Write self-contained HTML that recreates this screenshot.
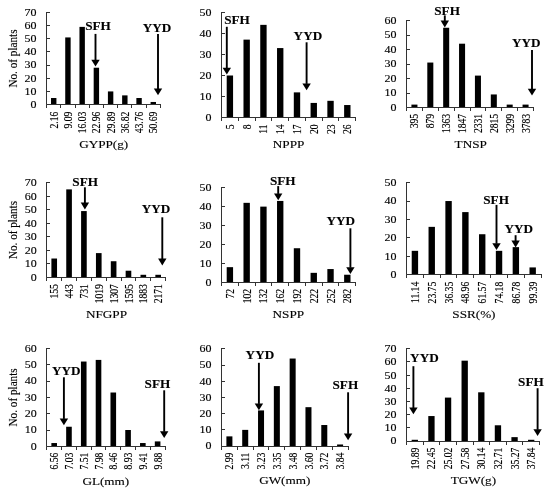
<!DOCTYPE html>
<html><head><meta charset="utf-8"><title>Histograms</title>
<style>
html,body{margin:0;padding:0;background:#fff;}
body{width:550px;height:493px;overflow:hidden;}
svg{display:block;}
#w{width:550px;height:493px;}
text{font-family:"Liberation Serif", "Times New Roman", serif;fill:#000;stroke:#000;stroke-width:0.12px;}
.lb{stroke-width:0.1px;}
.tk{font-size:10.0px;text-anchor:end;}
.ct{font-size:9.6px;text-anchor:end;}
.ti{font-size:11.0px;text-anchor:middle;}
.lb{font-size:11.6px;font-weight:bold;text-anchor:middle;}
.yt{font-size:11.2px;text-anchor:middle;}
.ax{fill:none;stroke:#333;stroke-width:1;}
.ar{fill:none;stroke:#000;stroke-width:1.9;}
</style></head>
<body><div id="w"><svg width="550" height="493" viewBox="0 0 550 493">
<rect width="550" height="493" fill="#fff"/>
<g><rect x="51.01" y="98.01" width="5.41" height="6.59"/><rect x="65.23" y="37.43" width="5.41" height="67.17"/><rect x="79.46" y="26.89" width="5.41" height="77.71"/><rect x="93.68" y="67.72" width="5.41" height="36.88"/><rect x="107.91" y="91.43" width="5.41" height="13.17"/><rect x="122.13" y="95.38" width="5.41" height="9.22"/><rect x="136.36" y="98.01" width="5.41" height="6.59"/><rect x="150.58" y="101.97" width="5.41" height="2.63"/><path class="ax" d="M46.5 12V104.5H161"/><path class="ax" d="M46.5 104.5h3.5M46.5 91.5h3.5M46.5 78.5h3.5M46.5 65.5h3.5M46.5 51.5h3.5M46.5 38.5h3.5M46.5 25.5h3.5M46.5 12.5h3.5M46.5 104.5v3.5M60.5 104.5v3.5M75.5 104.5v3.5M89.5 104.5v3.5M103.5 104.5v3.5M117.5 104.5v3.5M131.5 104.5v3.5M146.5 104.5v3.5M160.5 104.5v3.5"/><text class="tk" transform="translate(36.6 107.98) scale(1.2 1)">0</text><text class="tk" transform="translate(36.6 94.81) scale(1.2 1)">10</text><text class="tk" transform="translate(36.6 81.64) scale(1.2 1)">20</text><text class="tk" transform="translate(36.6 68.47) scale(1.2 1)">30</text><text class="tk" transform="translate(36.6 55.29) scale(1.2 1)">40</text><text class="tk" transform="translate(36.6 42.12) scale(1.2 1)">50</text><text class="tk" transform="translate(36.6 28.95) scale(1.2 1)">60</text><text class="tk" transform="translate(36.6 15.78) scale(1.2 1)">70</text><text class="ct" transform="translate(57.77 111.7) scale(1.25 1) rotate(-90)">2.16</text><text class="ct" transform="translate(71.99 111.7) scale(1.25 1) rotate(-90)">9.09</text><text class="ct" transform="translate(86.22 111.7) scale(1.25 1) rotate(-90)">16.03</text><text class="ct" transform="translate(100.44 111.7) scale(1.25 1) rotate(-90)">22.96</text><text class="ct" transform="translate(114.67 111.7) scale(1.25 1) rotate(-90)">29.89</text><text class="ct" transform="translate(128.89 111.7) scale(1.25 1) rotate(-90)">36.82</text><text class="ct" transform="translate(143.12 111.7) scale(1.25 1) rotate(-90)">43.76</text><text class="ct" transform="translate(157.34 111.7) scale(1.25 1) rotate(-90)">50.69</text><text class="ti" transform="translate(103.65 148) scale(1.2 1)">GYPP(g)</text><text class="lb" transform="translate(98 30.2) scale(1.14 1)">SFH</text><path class="ar" d="M95.5 33.9V60.2"/><path d="M91.3 59.7H99.7L95.5 66.5Z"/><text class="lb" transform="translate(157.05 31.9) scale(1.14 1)">YYD</text><path class="ar" d="M158 34.1V88.9"/><path d="M153.8 88.4H162.2L158 95.2Z"/><text class="yt" transform="translate(17.3 58.5) scale(1.03 1) rotate(-90)">No. of plants</text></g>
<g><rect x="226.7" y="75.5" width="6.37" height="42.2"/><rect x="243.48" y="39.63" width="6.37" height="78.07"/><rect x="260.25" y="24.86" width="6.37" height="92.84"/><rect x="277.03" y="48.07" width="6.37" height="69.63"/><rect x="293.8" y="92.38" width="6.37" height="25.32"/><rect x="310.58" y="102.93" width="6.37" height="14.77"/><rect x="327.35" y="100.82" width="6.37" height="16.88"/><rect x="344.13" y="105.04" width="6.37" height="12.66"/><path class="ax" d="M221.5 12V117.5H356"/><path class="ax" d="M221.5 117.5h3.5M221.5 96.5h3.5M221.5 75.5h3.5M221.5 54.5h3.5M221.5 33.5h3.5M221.5 12.5h3.5M221.5 117.5v3.5M238.5 117.5v3.5M255.5 117.5v3.5M271.5 117.5v3.5M288.5 117.5v3.5M305.5 117.5v3.5M322.5 117.5v3.5M338.5 117.5v3.5M355.5 117.5v3.5"/><text class="tk" transform="translate(211.5 121.08) scale(1.2 1)">0</text><text class="tk" transform="translate(211.5 99.98) scale(1.2 1)">10</text><text class="tk" transform="translate(211.5 78.88) scale(1.2 1)">20</text><text class="tk" transform="translate(211.5 57.78) scale(1.2 1)">30</text><text class="tk" transform="translate(211.5 36.68) scale(1.2 1)">40</text><text class="tk" transform="translate(211.5 15.58) scale(1.2 1)">50</text><text class="ct" transform="translate(233.94 124.5) scale(1.25 1) rotate(-90)">5</text><text class="ct" transform="translate(250.72 124.5) scale(1.25 1) rotate(-90)">8</text><text class="ct" transform="translate(267.49 124.5) scale(1.25 1) rotate(-90)">11</text><text class="ct" transform="translate(284.27 124.5) scale(1.25 1) rotate(-90)">14</text><text class="ct" transform="translate(301.04 124.5) scale(1.25 1) rotate(-90)">17</text><text class="ct" transform="translate(317.82 124.5) scale(1.25 1) rotate(-90)">20</text><text class="ct" transform="translate(334.59 124.5) scale(1.25 1) rotate(-90)">23</text><text class="ct" transform="translate(351.37 124.5) scale(1.25 1) rotate(-90)">26</text><text class="ti" transform="translate(288.55 148) scale(1.2 1)">NPPP</text><text class="lb" transform="translate(237.05 24) scale(1.14 1)">SFH</text><path class="ar" d="M226.8 26.8V68.2"/><path d="M222.6 67.7H231L226.8 74.5Z"/><text class="lb" transform="translate(307.9 39.9) scale(1.14 1)">YYD</text><path class="ar" d="M306.6 42.3V83.9"/><path d="M302.4 83.4H310.8L306.6 90.2Z"/></g>
<g><rect x="411.42" y="104.6" width="6.03" height="2.9"/><rect x="427.3" y="62.55" width="6.03" height="44.95"/><rect x="443.17" y="27.75" width="6.03" height="79.75"/><rect x="459.05" y="43.7" width="6.03" height="63.8"/><rect x="474.92" y="75.6" width="6.03" height="31.9"/><rect x="490.8" y="94.45" width="6.03" height="13.05"/><rect x="506.67" y="104.6" width="6.03" height="2.9"/><rect x="522.55" y="104.6" width="6.03" height="2.9"/><path class="ax" d="M406.5 20V107.5H534"/><path class="ax" d="M406.5 107.5h3.5M406.5 93.5h3.5M406.5 78.5h3.5M406.5 64.5h3.5M406.5 49.5h3.5M406.5 35.5h3.5M406.5 20.5h3.5M406.5 107.5v3.5M422.5 107.5v3.5M438.5 107.5v3.5M454.5 107.5v3.5M470.5 107.5v3.5M485.5 107.5v3.5M501.5 107.5v3.5M517.5 107.5v3.5M533.5 107.5v3.5"/><text class="tk" transform="translate(396.5 110.88) scale(1.2 1)">0</text><text class="tk" transform="translate(396.5 96.38) scale(1.2 1)">10</text><text class="tk" transform="translate(396.5 81.88) scale(1.2 1)">20</text><text class="tk" transform="translate(396.5 67.38) scale(1.2 1)">30</text><text class="tk" transform="translate(396.5 52.88) scale(1.2 1)">40</text><text class="tk" transform="translate(396.5 38.38) scale(1.2 1)">50</text><text class="tk" transform="translate(396.5 23.88) scale(1.2 1)">60</text><text class="ct" transform="translate(418.49 113.9) scale(1.25 1) rotate(-90)">395</text><text class="ct" transform="translate(434.37 113.9) scale(1.25 1) rotate(-90)">879</text><text class="ct" transform="translate(450.24 113.9) scale(1.25 1) rotate(-90)">1363</text><text class="ct" transform="translate(466.12 113.9) scale(1.25 1) rotate(-90)">1847</text><text class="ct" transform="translate(481.99 113.9) scale(1.25 1) rotate(-90)">2331</text><text class="ct" transform="translate(497.87 113.9) scale(1.25 1) rotate(-90)">2815</text><text class="ct" transform="translate(513.74 113.9) scale(1.25 1) rotate(-90)">3299</text><text class="ct" transform="translate(529.62 113.9) scale(1.25 1) rotate(-90)">3783</text><text class="ti" transform="translate(470.7 148.1) scale(1.2 1)">TNSP</text><text class="lb" transform="translate(447.1 15.2) scale(1.14 1)">SFH</text><path class="ar" d="M444.8 15.4V21.1"/><path d="M440.6 20.6H449L444.8 27.4Z"/><text class="lb" transform="translate(526.25 47.1) scale(1.14 1)">YYD</text><path class="ar" d="M532 50.1V89.3"/><path d="M527.8 88.8H536.2L532 95.6Z"/></g>
<g><rect x="51.4" y="258.52" width="5.64" height="18.98"/><rect x="66.25" y="189.38" width="5.64" height="88.12"/><rect x="81.1" y="211.07" width="5.64" height="66.43"/><rect x="95.95" y="253.1" width="5.64" height="24.4"/><rect x="110.8" y="261.23" width="5.64" height="16.27"/><rect x="125.65" y="270.72" width="5.64" height="6.78"/><rect x="140.5" y="274.79" width="5.64" height="2.71"/><rect x="155.35" y="274.79" width="5.64" height="2.71"/><path class="ax" d="M46.5 182V277.5H166"/><path class="ax" d="M46.5 277.5h3.5M46.5 263.5h3.5M46.5 250.5h3.5M46.5 236.5h3.5M46.5 223.5h3.5M46.5 209.5h3.5M46.5 196.5h3.5M46.5 182.5h3.5M46.5 277.5v3.5M61.5 277.5v3.5M76.5 277.5v3.5M91.5 277.5v3.5M106.5 277.5v3.5M121.5 277.5v3.5M135.5 277.5v3.5M150.5 277.5v3.5M165.5 277.5v3.5"/><text class="tk" transform="translate(36.8 280.88) scale(1.2 1)">0</text><text class="tk" transform="translate(36.8 267.32) scale(1.2 1)">10</text><text class="tk" transform="translate(36.8 253.77) scale(1.2 1)">20</text><text class="tk" transform="translate(36.8 240.21) scale(1.2 1)">30</text><text class="tk" transform="translate(36.8 226.65) scale(1.2 1)">40</text><text class="tk" transform="translate(36.8 213.09) scale(1.2 1)">50</text><text class="tk" transform="translate(36.8 199.54) scale(1.2 1)">60</text><text class="tk" transform="translate(36.8 185.98) scale(1.2 1)">70</text><text class="ct" transform="translate(58.28 284.1) scale(1.25 1) rotate(-90)">155</text><text class="ct" transform="translate(73.13 284.1) scale(1.25 1) rotate(-90)">443</text><text class="ct" transform="translate(87.98 284.1) scale(1.25 1) rotate(-90)">731</text><text class="ct" transform="translate(102.83 284.1) scale(1.25 1) rotate(-90)">1019</text><text class="ct" transform="translate(117.68 284.1) scale(1.25 1) rotate(-90)">1307</text><text class="ct" transform="translate(132.53 284.1) scale(1.25 1) rotate(-90)">1595</text><text class="ct" transform="translate(147.38 284.1) scale(1.25 1) rotate(-90)">1883</text><text class="ct" transform="translate(162.23 284.1) scale(1.25 1) rotate(-90)">2171</text><text class="ti" transform="translate(106.5 318) scale(1.2 1)">NFGPP</text><text class="lb" transform="translate(85.2 186.4) scale(1.14 1)">SFH</text><path class="ar" d="M84.9 187.3V203.1"/><path d="M80.7 202.6H89.1L84.9 209.4Z"/><text class="lb" transform="translate(155.95 212.8) scale(1.14 1)">YYD</text><path class="ar" d="M162.3 217.3V259.1"/><path d="M158.1 258.6H166.5L162.3 265.4Z"/><text class="yt" transform="translate(17.3 230.05) scale(1.03 1) rotate(-90)">No. of plants</text></g>
<g><rect x="226.7" y="267.16" width="6.37" height="15.14"/><rect x="243.48" y="202.84" width="6.37" height="79.46"/><rect x="260.25" y="206.62" width="6.37" height="75.68"/><rect x="277.03" y="200.94" width="6.37" height="81.36"/><rect x="293.8" y="248.24" width="6.37" height="34.06"/><rect x="310.58" y="272.84" width="6.37" height="9.46"/><rect x="327.35" y="269.06" width="6.37" height="13.24"/><rect x="344.13" y="274.73" width="6.37" height="7.57"/><path class="ax" d="M221.5 187V282.5H356"/><path class="ax" d="M221.5 282.5h3.5M221.5 263.5h3.5M221.5 244.5h3.5M221.5 225.5h3.5M221.5 206.5h3.5M221.5 187.5h3.5M221.5 282.5v3.5M238.5 282.5v3.5M255.5 282.5v3.5M271.5 282.5v3.5M288.5 282.5v3.5M305.5 282.5v3.5M322.5 282.5v3.5M338.5 282.5v3.5M355.5 282.5v3.5"/><text class="tk" transform="translate(211.5 285.68) scale(1.2 1)">0</text><text class="tk" transform="translate(211.5 266.76) scale(1.2 1)">10</text><text class="tk" transform="translate(211.5 247.84) scale(1.2 1)">20</text><text class="tk" transform="translate(211.5 228.92) scale(1.2 1)">30</text><text class="tk" transform="translate(211.5 210) scale(1.2 1)">40</text><text class="tk" transform="translate(211.5 191.08) scale(1.2 1)">50</text><text class="ct" transform="translate(233.94 288.9) scale(1.25 1) rotate(-90)">72</text><text class="ct" transform="translate(250.72 288.9) scale(1.25 1) rotate(-90)">102</text><text class="ct" transform="translate(267.49 288.9) scale(1.25 1) rotate(-90)">132</text><text class="ct" transform="translate(284.27 288.9) scale(1.25 1) rotate(-90)">162</text><text class="ct" transform="translate(301.04 288.9) scale(1.25 1) rotate(-90)">192</text><text class="ct" transform="translate(317.82 288.9) scale(1.25 1) rotate(-90)">222</text><text class="ct" transform="translate(334.59 288.9) scale(1.25 1) rotate(-90)">252</text><text class="ct" transform="translate(351.37 288.9) scale(1.25 1) rotate(-90)">282</text><text class="ti" transform="translate(288.35 318.2) scale(1.2 1)">NSPP</text><text class="lb" transform="translate(282.8 185.2) scale(1.14 1)">SFH</text><path class="ar" d="M278.2 186.1V193.9"/><path d="M274 193.4H282.4L278.2 200.2Z"/><text class="lb" transform="translate(340.85 225) scale(1.14 1)">YYD</text><path class="ar" d="M350.4 228.3V267.7"/><path d="M346.2 267.2H354.6L350.4 274Z"/></g>
<g><rect x="411.72" y="250.83" width="6.39" height="23.97"/><rect x="428.54" y="226.86" width="6.39" height="47.94"/><rect x="445.37" y="201.04" width="6.39" height="73.76"/><rect x="462.19" y="212.1" width="6.39" height="62.7"/><rect x="479.02" y="234.23" width="6.39" height="40.57"/><rect x="495.84" y="250.83" width="6.39" height="23.97"/><rect x="512.67" y="247.14" width="6.39" height="27.66"/><rect x="529.49" y="267.42" width="6.39" height="7.38"/><path class="ax" d="M406.5 182V274.5H542"/><path class="ax" d="M406.5 274.5h3.5M406.5 256.5h3.5M406.5 237.5h3.5M406.5 219.5h3.5M406.5 201.5h3.5M406.5 182.5h3.5M406.5 274.5v3.5M423.5 274.5v3.5M440.5 274.5v3.5M456.5 274.5v3.5M473.5 274.5v3.5M490.5 274.5v3.5M507.5 274.5v3.5M524.5 274.5v3.5M541.5 274.5v3.5"/><text class="tk" transform="translate(396.5 278.18) scale(1.2 1)">0</text><text class="tk" transform="translate(396.5 259.74) scale(1.2 1)">10</text><text class="tk" transform="translate(396.5 241.3) scale(1.2 1)">20</text><text class="tk" transform="translate(396.5 222.86) scale(1.2 1)">30</text><text class="tk" transform="translate(396.5 204.42) scale(1.2 1)">40</text><text class="tk" transform="translate(396.5 185.98) scale(1.2 1)">50</text><text class="ct" transform="translate(418.97 281.8) scale(1.25 1) rotate(-90)">11.14</text><text class="ct" transform="translate(435.79 281.8) scale(1.25 1) rotate(-90)">23.75</text><text class="ct" transform="translate(452.62 281.8) scale(1.25 1) rotate(-90)">36.35</text><text class="ct" transform="translate(469.44 281.8) scale(1.25 1) rotate(-90)">48.96</text><text class="ct" transform="translate(486.27 281.8) scale(1.25 1) rotate(-90)">61.57</text><text class="ct" transform="translate(503.09 281.8) scale(1.25 1) rotate(-90)">74.18</text><text class="ct" transform="translate(519.92 281.8) scale(1.25 1) rotate(-90)">86.78</text><text class="ct" transform="translate(536.74 281.8) scale(1.25 1) rotate(-90)">99.39</text><text class="ti" transform="translate(473.9 318.2) scale(1.2 1)">SSR(%)</text><text class="lb" transform="translate(496.1 203.5) scale(1.14 1)">SFH</text><path class="ar" d="M496.5 204.9V243.7"/><path d="M492.3 243.2H500.7L496.5 250Z"/><text class="lb" transform="translate(518.8 232.9) scale(1.14 1)">YYD</text><path class="ar" d="M515.6 235.2V241.1"/><path d="M511.4 240.6H519.8L515.6 247.4Z"/></g>
<g><rect x="51.38" y="443.04" width="5.61" height="3.26"/><rect x="66.16" y="426.74" width="5.61" height="19.56"/><rect x="80.93" y="361.54" width="5.61" height="84.76"/><rect x="95.71" y="359.91" width="5.61" height="86.39"/><rect x="110.48" y="392.51" width="5.61" height="53.79"/><rect x="125.26" y="430" width="5.61" height="16.3"/><rect x="140.03" y="443.04" width="5.61" height="3.26"/><rect x="154.81" y="441.41" width="5.61" height="4.89"/><path class="ax" d="M46.5 348V446.5H166"/><path class="ax" d="M46.5 446.5h3.5M46.5 430.5h3.5M46.5 413.5h3.5M46.5 397.5h3.5M46.5 381.5h3.5M46.5 364.5h3.5M46.5 348.5h3.5M46.5 446.5v3.5M61.5 446.5v3.5M76.5 446.5v3.5M91.5 446.5v3.5M105.5 446.5v3.5M120.5 446.5v3.5M135.5 446.5v3.5M150.5 446.5v3.5M165.5 446.5v3.5"/><text class="tk" transform="translate(36.8 449.68) scale(1.2 1)">0</text><text class="tk" transform="translate(36.8 433.38) scale(1.2 1)">10</text><text class="tk" transform="translate(36.8 417.08) scale(1.2 1)">20</text><text class="tk" transform="translate(36.8 400.78) scale(1.2 1)">30</text><text class="tk" transform="translate(36.8 384.48) scale(1.2 1)">40</text><text class="tk" transform="translate(36.8 368.18) scale(1.2 1)">50</text><text class="tk" transform="translate(36.8 351.88) scale(1.2 1)">60</text><text class="ct" transform="translate(58.24 452.7) scale(1.25 1) rotate(-90)">6.56</text><text class="ct" transform="translate(73.02 452.7) scale(1.25 1) rotate(-90)">7.03</text><text class="ct" transform="translate(87.79 452.7) scale(1.25 1) rotate(-90)">7.51</text><text class="ct" transform="translate(102.57 452.7) scale(1.25 1) rotate(-90)">7.98</text><text class="ct" transform="translate(117.34 452.7) scale(1.25 1) rotate(-90)">8.46</text><text class="ct" transform="translate(132.12 452.7) scale(1.25 1) rotate(-90)">8.93</text><text class="ct" transform="translate(146.89 452.7) scale(1.25 1) rotate(-90)">9.41</text><text class="ct" transform="translate(161.67 452.7) scale(1.25 1) rotate(-90)">9.88</text><text class="ti" transform="translate(105.8 484.5) scale(1.2 1)">GL(mm)</text><text class="lb" transform="translate(66.3 374.5) scale(1.14 1)">YYD</text><path class="ar" d="M63.9 377.3V418.9"/><path d="M59.7 418.4H68.1L63.9 425.2Z"/><text class="lb" transform="translate(157.4 388.2) scale(1.14 1)">SFH</text><path class="ar" d="M164.2 390.3V431.8"/><path d="M160 431.3H168.4L164.2 438.1Z"/><text class="yt" transform="translate(17.3 397.4) scale(1.03 1) rotate(-90)">No. of plants</text></g>
<g><rect x="226.4" y="436.37" width="6.01" height="9.73"/><rect x="242.21" y="429.88" width="6.01" height="16.22"/><rect x="258.03" y="410.42" width="6.01" height="35.68"/><rect x="273.84" y="386.1" width="6.01" height="60"/><rect x="289.65" y="358.53" width="6.01" height="87.57"/><rect x="305.46" y="407.18" width="6.01" height="38.92"/><rect x="321.28" y="425.02" width="6.01" height="21.08"/><rect x="337.09" y="444.48" width="6.01" height="1.62"/><path class="ax" d="M221.5 348V446.5H349"/><path class="ax" d="M221.5 446.5h3.5M221.5 429.5h3.5M221.5 413.5h3.5M221.5 397.5h3.5M221.5 381.5h3.5M221.5 365.5h3.5M221.5 348.5h3.5M221.5 446.5v3.5M237.5 446.5v3.5M253.5 446.5v3.5M268.5 446.5v3.5M284.5 446.5v3.5M300.5 446.5v3.5M316.5 446.5v3.5M332.5 446.5v3.5M348.5 446.5v3.5"/><text class="tk" transform="translate(211.5 449.48) scale(1.2 1)">0</text><text class="tk" transform="translate(211.5 433.26) scale(1.2 1)">10</text><text class="tk" transform="translate(211.5 417.05) scale(1.2 1)">20</text><text class="tk" transform="translate(211.5 400.83) scale(1.2 1)">30</text><text class="tk" transform="translate(211.5 384.61) scale(1.2 1)">40</text><text class="tk" transform="translate(211.5 368.4) scale(1.2 1)">50</text><text class="tk" transform="translate(211.5 352.18) scale(1.2 1)">60</text><text class="ct" transform="translate(233.46 452.6) scale(1.25 1) rotate(-90)">2.99</text><text class="ct" transform="translate(249.27 452.6) scale(1.25 1) rotate(-90)">3.11</text><text class="ct" transform="translate(265.09 452.6) scale(1.25 1) rotate(-90)">3.23</text><text class="ct" transform="translate(280.9 452.6) scale(1.25 1) rotate(-90)">3.35</text><text class="ct" transform="translate(296.71 452.6) scale(1.25 1) rotate(-90)">3.48</text><text class="ct" transform="translate(312.52 452.6) scale(1.25 1) rotate(-90)">3.60</text><text class="ct" transform="translate(328.34 452.6) scale(1.25 1) rotate(-90)">3.72</text><text class="ct" transform="translate(344.15 452.6) scale(1.25 1) rotate(-90)">3.84</text><text class="ti" transform="translate(284.75 484.2) scale(1.2 1)">GW(mm)</text><text class="lb" transform="translate(259.9 358.5) scale(1.14 1)">YYD</text><path class="ar" d="M258.9 362.8V403.9"/><path d="M254.7 403.4H263.1L258.9 410.2Z"/><text class="lb" transform="translate(345.35 389.3) scale(1.14 1)">SFH</text><path class="ar" d="M348.1 392.3V433.9"/><path d="M343.9 433.4H352.3L348.1 440.2Z"/></g>
<g><rect x="411.65" y="439.78" width="6.32" height="1.32"/><rect x="428.28" y="416.05" width="6.32" height="25.05"/><rect x="444.9" y="397.59" width="6.32" height="43.51"/><rect x="461.53" y="360.67" width="6.32" height="80.43"/><rect x="478.15" y="392.31" width="6.32" height="48.79"/><rect x="494.78" y="425.28" width="6.32" height="15.82"/><rect x="511.4" y="437.14" width="6.32" height="3.96"/><rect x="528.03" y="439.78" width="6.32" height="1.32"/><path class="ax" d="M406.5 348V441.5H540"/><path class="ax" d="M406.5 441.5h3.5M406.5 427.5h3.5M406.5 414.5h3.5M406.5 401.5h3.5M406.5 388.5h3.5M406.5 375.5h3.5M406.5 361.5h3.5M406.5 348.5h3.5M406.5 441.5v3.5M423.5 441.5v3.5M439.5 441.5v3.5M456.5 441.5v3.5M473.5 441.5v3.5M489.5 441.5v3.5M506.5 441.5v3.5M522.5 441.5v3.5M539.5 441.5v3.5"/><text class="tk" transform="translate(396.5 444.48) scale(1.2 1)">0</text><text class="tk" transform="translate(396.5 431.29) scale(1.2 1)">10</text><text class="tk" transform="translate(396.5 418.11) scale(1.2 1)">20</text><text class="tk" transform="translate(396.5 404.92) scale(1.2 1)">30</text><text class="tk" transform="translate(396.5 391.74) scale(1.2 1)">40</text><text class="tk" transform="translate(396.5 378.55) scale(1.2 1)">50</text><text class="tk" transform="translate(396.5 365.37) scale(1.2 1)">60</text><text class="tk" transform="translate(396.5 352.18) scale(1.2 1)">70</text><text class="ct" transform="translate(418.87 447.6) scale(1.25 1) rotate(-90)">19.89</text><text class="ct" transform="translate(435.49 447.6) scale(1.25 1) rotate(-90)">22.45</text><text class="ct" transform="translate(452.12 447.6) scale(1.25 1) rotate(-90)">25.02</text><text class="ct" transform="translate(468.74 447.6) scale(1.25 1) rotate(-90)">27.58</text><text class="ct" transform="translate(485.37 447.6) scale(1.25 1) rotate(-90)">30.14</text><text class="ct" transform="translate(501.99 447.6) scale(1.25 1) rotate(-90)">32.71</text><text class="ct" transform="translate(518.62 447.6) scale(1.25 1) rotate(-90)">35.27</text><text class="ct" transform="translate(535.24 447.6) scale(1.25 1) rotate(-90)">37.84</text><text class="ti" transform="translate(473.35 483.8) scale(1.2 1)">TGW(g)</text><text class="lb" transform="translate(424.4 361.8) scale(1.14 1)">YYD</text><path class="ar" d="M413.4 366.2V408"/><path d="M409.2 407.5H417.6L413.4 414.3Z"/><text class="lb" transform="translate(530.9 386) scale(1.14 1)">SFH</text><path class="ar" d="M537.6 388.2V429.7"/><path d="M533.4 429.2H541.8L537.6 436Z"/></g>
</svg></div></body></html>
